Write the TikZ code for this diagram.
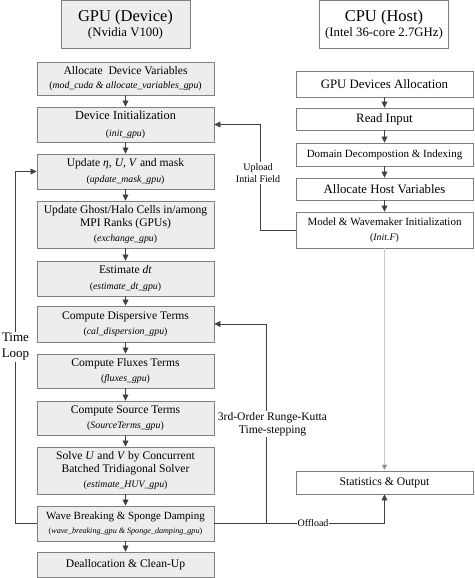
\documentclass[tikz,border=0pt]{standalone}
\usepackage{fontspec}
\setmainfont{Liberation Serif}
\usetikzlibrary{arrows.meta}
\tikzstyle{arrow} = [draw=black!75,line width=0.6pt,-{Triangle[width=6pt,length=6pt]}]
\tikzstyle{gpubox} = [draw=black!50,line width=0.9pt,fill=black!7,minimum width=177pt,align=center,inner sep=1pt,font=\fontsize{11.6}{13.5}\selectfont]
\tikzstyle{cpubox} = [draw=black!50,line width=0.9pt,fill=white,minimum width=177pt,align=center,inner sep=1pt,font=\fontsize{12.8}{14}\selectfont]
\tikzstyle{headbox} = [draw=black!50,line width=0.9pt,minimum width=129pt,minimum height=48pt,align=center,inner sep=1pt]
\tikzstyle{lbl} = [fill=white,align=center,inner sep=1pt]
\newcommand{\fname}[1]{{\fontsize{9.8}{11}\selectfont(\textit{#1})}}
\newcommand{\hsub}[1]{{\fontsize{12.8}{14}\selectfont #1}}

\begin{document}
\begin{tikzpicture}[x=1pt,y=-1pt]
\useasboundingbox (0,0) rectangle (474,578);
% headers
\node[headbox,fill=black!7] (gpu) at (125.5,24.5) {\fontsize{16.5}{19}\selectfont GPU (Device)\\[1pt]\hsub{(Nvidia V100)}};
\node[headbox,fill=white] (cpu) at (384,24.5) {\fontsize{16.5}{19}\selectfont CPU (Host)\\[1pt]\hsub{(Intel 36-core 2.7GHz)}};
% GPU side
\node[gpubox,minimum height=33pt] (alloc) at (125.5,78.5) {Allocate~ Device Variables\\[1pt]\fname{mod\_cuda \& allocate\_variables\_gpu}};
\node[gpubox,minimum height=35pt,font=\fontsize{12.3}{14}\selectfont] (init) at (125.5,124.5) {Device Initialization\\[3pt]\fname{init\_gpu}};
\node[gpubox,minimum height=35pt] (upd) at (125.5,171.5) {Update \textit{η}, \textit{U, V} and mask\\[2pt]\fname{update\_mask\_gpu}};
\node[gpubox,minimum height=47pt] (ghost) at (125.5,224.5) {Update Ghost/Halo Cells in/among\\MPI Ranks (GPUs)\\[1pt]\fname{exchange\_gpu}};
\node[gpubox,minimum height=35pt] (dt) at (125.5,278.5) {Estimate \textit{dt}\\[2pt]\fname{estimate\_dt\_gpu}};
\node[gpubox,minimum height=36pt] (disp) at (125.5,324) {Compute Dispersive Terms\\[2pt]\fname{cal\_dispersion\_gpu}};
\node[gpubox,minimum height=34pt] (flux) at (125.5,371) {Compute Fluxes Terms\\[2pt]\fname{fluxes\_gpu}};
\node[gpubox,minimum height=34pt] (src) at (125.5,418) {Compute Source Terms\\[2pt]\fname{SourceTerms\_gpu}};
\node[gpubox,minimum height=47pt] (solve) at (125.5,470.5) {Solve \textit{U} and \textit{V} by Concurrent\\Batched Tridiagonal Solver\\[1pt]\fname{estimate\_HUV\_gpu}};
\node[gpubox,minimum height=35pt,font=\fontsize{11}{13}\selectfont] (wave) at (125.5,523.5) {Wave Breaking \& Sponge Damping\\[1pt]{\fontsize{8.1}{9}\selectfont(\textit{wave\_breaking\_gpu \& Sponge\_damping\_gpu})}};
\node[gpubox,minimum height=25pt] (dealloc) at (125.5,564.5) {Deallocation \& Clean-Up};
% CPU side
\node[cpubox,minimum height=26pt] (devalloc) at (384.5,84) {GPU Devices Allocation};
\node[cpubox,minimum height=22pt] (read) at (384.5,119) {Read Input};
\node[cpubox,minimum height=23pt,font=\fontsize{11}{13}\selectfont] (domain) at (384.5,154.5) {Domain Decompostion \& Indexing};
\node[cpubox,minimum height=22pt] (hostvar) at (384.5,189) {Allocate Host Variables};
\node[cpubox,minimum height=36pt,font=\fontsize{11}{13}\selectfont] (model) at (384.5,230) {Model \& Wavemaker Initialization\\[2pt]\fname{Init.F}};
\node[cpubox,minimum height=23pt,font=\fontsize{11.7}{13}\selectfont] (stats) at (384.5,482.5) {Statistics \& Output};
% straight arrows
\foreach \a/\b in {alloc/init,init/upd,upd/ghost,ghost/dt,dt/disp,disp/flux,flux/src,src/solve,solve/wave,wave/dealloc,devalloc/read,read/domain,domain/hostvar,hostvar/model}{
	\draw[arrow] (\a) -- (\b);
}
\draw[arrow,draw=black!20,-{Triangle[width=6pt,length=6pt,fill=black!50]}] (model) -- (stats);
% upload
\coordinate (up1) at (260,230);
\coordinate (up2) at (260,124.5);
\draw[arrow] (model.west) -- (up1) -- (up2) -- (init.east);
\node[lbl,font=\fontsize{10}{12}\selectfont] (upload) at (258,173) {Upload\\Intial Field};
% time loop
\coordinate (tl1) at (15,523.5);
\coordinate (tl2) at (15,171.5);
\draw[arrow] (wave.west) -- (tl1) -- (tl2) -- (upd.west);
\node[lbl,font=\fontsize{13}{16}\selectfont] (timeloop) at (15.5,347) {Time\\Loop};
% offload and RK
\coordinate (off1) at (384.5,523.5);
\coordinate (rk1) at (266,523.5);
\coordinate (rk2) at (266,324);
\draw[arrow] (wave.east) -- (off1) -- (stats.south);
\draw[arrow] (rk1) -- (rk2) -- (disp.east);
\node[lbl,font=\fontsize{10}{12}\selectfont] (offload) at (313,523.5) {Offload};
\node[lbl,font=\fontsize{11.6}{13.5}\selectfont] (rk) at (272.5,424) {3rd-Order Runge-Kutta\\Time-stepping};
\end{tikzpicture}
\end{document}
